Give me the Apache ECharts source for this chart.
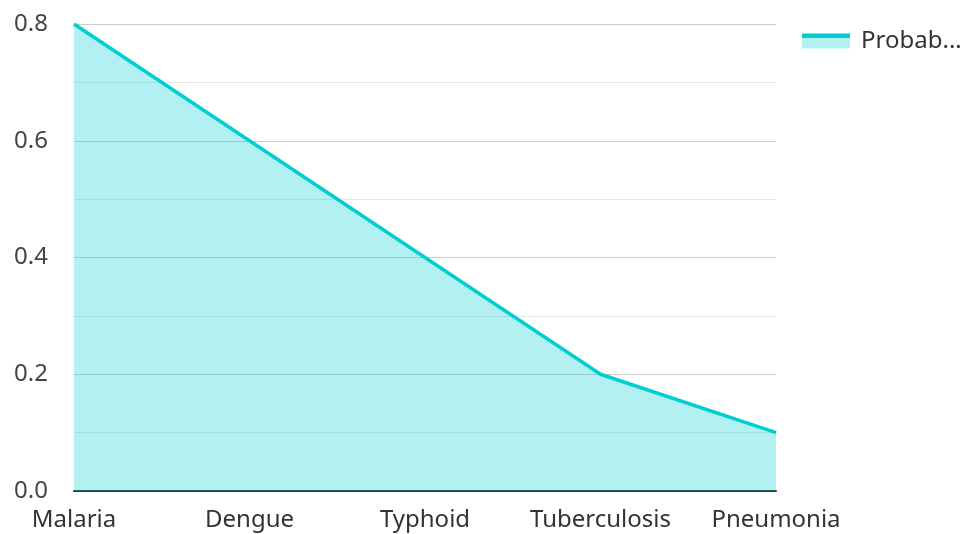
<!DOCTYPE html>
<html>
<head>
<meta charset="utf-8">
<script src="https://cdn.jsdelivr.net/npm/echarts@6/dist/echarts.min.js"></script>
<style>
  html, body { margin: 0; padding: 0; background: #fff; }
  #chart { width: 966px; height: 534px; }
</style>
</head>
<body>
<div id="chart"></div>
<script>
  // data
  const diseases = ['Malaria', 'Dengue', 'Typhoid', 'Tuberculosis', 'Pneumonia'];
  const probability = [0.8, 0.6, 0.4, 0.2, 0.1];
  const seriesName = 'Probability';

  const chart = echarts.init(document.getElementById('chart'));
  const font = '"Noto Sans", sans-serif';

  let option = {
    backgroundColor: '#fff',
    color: ['#00CED1'],
    grid: { left: 74, right: 190, top: 24, bottom: 43 },
    legend: {
      left: 797,
      top: 24,
      icon: 'rect',
      itemWidth: 48,
      itemHeight: 15,
      itemGap: 10,
      itemStyle: {
        color: new echarts.graphic.LinearGradient(0, 0, 0, 1, [
          { offset: 0, color: '#00CED1' },
          { offset: 0.27, color: '#00CED1' },
          { offset: 0.27, color: '#B3F0F1' },
          { offset: 1, color: '#B3F0F1' }
        ])
      },
      textStyle: {
        fontFamily: font,
        fontSize: 24,
        color: '#333',
        width: 102,
        overflow: 'truncate',
        padding: [0, 0, 0, 6]
      },
      data: [seriesName]
    },
    xAxis: {
      type: 'category',
      boundaryGap: false,
      data: diseases,
      axisTick: { show: false },
      axisLine: { lineStyle: { color: '#333', width: 2 } },
      axisLabel: { interval: 0, fontFamily: font, fontSize: 24, color: '#333', margin: 17 }
    },
    yAxis: {
      type: 'value',
      min: 0,
      max: 0.8,
      interval: 0.2,
      axisLabel: {
        fontFamily: font, fontSize: 24, color: '#444', margin: 26,
        formatter: v => v.toFixed(1)
      },
      splitLine: { lineStyle: { color: '#ccc', width: 1 } },
      minorTick: { show: false, splitNumber: 2 },
      minorSplitLine: { show: true, lineStyle: { color: '#e6e6e6', width: 1 } }
    },
    series: [{
      name: seriesName,
      type: 'line',
      data: probability,
      symbol: 'none',
      lineStyle: { width: 3.5 },
      areaStyle: { opacity: 0.3 }
    }]
  };
  chart.setOption(option);
</script>
</body>
</html>
